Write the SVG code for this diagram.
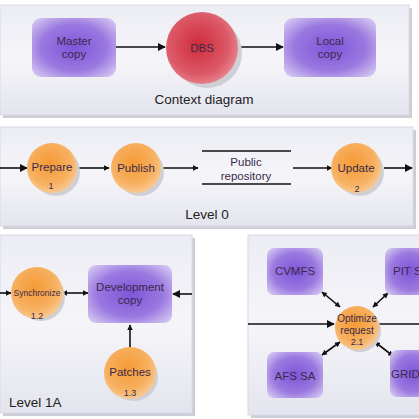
<svg xmlns="http://www.w3.org/2000/svg" width="419" height="419" viewBox="0 0 419 419">
<style>
text{font-family:"Liberation Sans",Arial,sans-serif;fill:#3a2a4a;text-anchor:middle}
.lbl{font-size:11.5px}
.sm{font-size:9px}
.cap{font-size:13.5px;fill:#222}
.ln{stroke:#111;stroke-width:1.6;fill:none}
</style>
<defs>
<linearGradient id="pbg" x1="0" y1="0" x2="0" y2="1">
<stop offset="0" stop-color="#ececf4"/><stop offset="0.5" stop-color="#f5f5f9"/><stop offset="1" stop-color="#e4e4ee"/>
</linearGradient>
<radialGradient id="pur" cx="0.5" cy="0.5" r="0.65">
<stop offset="0" stop-color="#7e55d8"/><stop offset="0.6" stop-color="#9a78e0"/><stop offset="1" stop-color="#d2c4f0"/>
</radialGradient>
<radialGradient id="org" cx="0.45" cy="0.4" r="0.6">
<stop offset="0" stop-color="#f59a35"/><stop offset="0.7" stop-color="#f7b060"/><stop offset="1" stop-color="#f9c890"/>
</radialGradient>
<radialGradient id="red" cx="0.45" cy="0.45" r="0.6">
<stop offset="0" stop-color="#d02a3c"/><stop offset="0.7" stop-color="#dc5a68"/><stop offset="1" stop-color="#e88a94"/>
</radialGradient>
<marker id="ah" viewBox="0 0 10 10" refX="9" refY="5" markerWidth="5" markerHeight="5" orient="auto-start-reverse" markerUnits="strokeWidth">
<path d="M0,0 L10,5 L0,10 z" fill="#111"/>
</marker>
<marker id="as" viewBox="0 0 10 10" refX="9" refY="5" markerWidth="3.5" markerHeight="3.5" orient="auto-start-reverse" markerUnits="strokeWidth">
<path d="M0,0 L10,5 L0,10 z" fill="#111"/>
</marker>
</defs>

<!-- panels -->
<g id="panels">
<rect x="3" y="8" width="409" height="110" fill="#cdcdd5"/>
<rect x="0" y="5" width="409" height="110" fill="url(#pbg)" stroke="#dadae6"/>
<rect x="3" y="130" width="413" height="99" fill="#cdcdd5"/>
<rect x="0" y="127" width="413" height="99" fill="url(#pbg)" stroke="#dadae6"/>
<rect x="3" y="238" width="192" height="178" fill="#cdcdd5"/>
<rect x="0" y="235" width="192" height="178" fill="url(#pbg)" stroke="#dadae6"/>
<rect x="251" y="238" width="170" height="180" fill="#cdcdd5"/>
<rect x="248" y="235" width="175" height="180" fill="url(#pbg)" stroke="#dadae6"/>
</g>

<!-- connectors -->
<g id="connectors">
<line class="ln" x1="116" y1="47" x2="165" y2="47" marker-end="url(#ah)"/>
<line class="ln" x1="238" y1="47" x2="283" y2="47" marker-end="url(#ah)"/>
<line class="ln" x1="0" y1="168" x2="27" y2="168" marker-end="url(#ah)"/>
<line class="ln" x1="79" y1="168" x2="109" y2="168" stroke-width="1.2" marker-end="url(#as)"/>
<line class="ln" x1="162" y1="168" x2="198" y2="168" stroke-width="1.2" marker-end="url(#as)"/>
<line class="ln" x1="293" y1="168" x2="332" y2="168" stroke-width="1.2" marker-end="url(#as)"/>
<line class="ln" x1="384" y1="168" x2="412" y2="168" marker-end="url(#ah)"/>
<line class="ln" x1="202" y1="151" x2="291" y2="151" stroke-width="1.2"/>
<line class="ln" x1="202" y1="184" x2="291" y2="184" stroke-width="1.2"/>
<line class="ln" x1="0" y1="293" x2="11" y2="293" stroke-width="1.2" marker-end="url(#as)"/>
<line class="ln" x1="62" y1="293" x2="88" y2="293" stroke-width="1.2" marker-start="url(#as)" marker-end="url(#as)"/>
<line class="ln" x1="192" y1="294" x2="173" y2="294" stroke-width="2" marker-end="url(#ah)"/>
<line class="ln" x1="130" y1="347" x2="130" y2="325" stroke-width="1.2" marker-end="url(#as)"/>
<line class="ln" x1="248" y1="324" x2="334" y2="324" marker-end="url(#ah)"/>
<line class="ln" x1="379" y1="324" x2="419" y2="324"/>
<line class="ln" x1="322" y1="292" x2="340" y2="307" stroke-width="1.2" marker-start="url(#as)" marker-end="url(#as)"/>
<line class="ln" x1="388" y1="293" x2="373" y2="307" stroke-width="1.2" marker-start="url(#as)" marker-end="url(#as)"/>
<line class="ln" x1="322" y1="355" x2="340" y2="342" stroke-width="1.2" marker-start="url(#as)" marker-end="url(#as)"/>
<line class="ln" x1="375" y1="342" x2="393" y2="356" stroke-width="1.2" marker-start="url(#as)" marker-end="url(#as)"/>
</g>

<!-- Context diagram -->
<g id="master">
<rect x="32" y="18" width="84" height="59" rx="9" fill="url(#pur)"/>
<text class="lbl" x="74" y="45">Master</text><text class="lbl" x="74" y="58">copy</text>
</g>
<g id="dbs">
<circle cx="207" cy="53" r="35" fill="#cfcfd6"/>
<circle cx="202" cy="48" r="36" fill="url(#red)"/>
<text class="lbl" x="202" y="52">DBS</text>
</g>
<g id="local">
<rect x="284" y="18" width="92" height="59" rx="9" fill="url(#pur)"/>
<text class="lbl" x="330" y="45">Local</text><text class="lbl" x="330" y="58">copy</text>
</g>
<text class="cap" x="204" y="104">Context diagram</text>

<!-- Level 0 -->
<g id="prepare">
<circle cx="56" cy="172" r="24" fill="#cfcfd6"/>
<circle cx="52" cy="168" r="25" fill="url(#org)"/>
<text class="lbl" x="52" y="171">Prepare</text><text class="sm" x="51" y="189">1</text>
</g>
<g id="publish">
<circle cx="140" cy="172" r="24" fill="#cfcfd6"/>
<circle cx="136" cy="168" r="25" fill="url(#org)"/>
<text class="lbl" x="136" y="172">Publish</text>
</g>
<g id="repository">
<text class="lbl" x="246" y="166">Public</text><text class="lbl" x="246" y="180">repository</text>
</g>
<g id="update">
<circle cx="360" cy="172" r="24" fill="#cfcfd6"/>
<circle cx="356" cy="168" r="25" fill="url(#org)"/>
<text class="lbl" x="356" y="172">Update</text><text class="sm" x="357" y="192">2</text>
</g>
<text class="cap" x="207" y="219">Level 0</text>

<!-- Level 1A -->
<g id="synchronize">
<circle cx="41" cy="297" r="24" fill="#cfcfd6"/>
<circle cx="37" cy="293" r="26" fill="url(#org)"/>
<text x="37" y="296" style="font-size:8.5px">Synchronize</text><text class="sm" x="37" y="319">1.2</text>
</g>
<g id="devcopy">
<rect x="88" y="265" width="84" height="58" rx="8" fill="url(#pur)"/>
<text class="lbl" x="130" y="291">Development</text><text class="lbl" x="130" y="304">copy</text>
</g>
<g id="patches">
<circle cx="134" cy="377" r="24" fill="#cfcfd6"/>
<circle cx="130" cy="373" r="26" fill="url(#org)"/>
<text class="lbl" x="130" y="376">Patches</text><text class="sm" x="130" y="396">1.3</text>
</g>
<text class="cap" x="9" y="407" style="text-anchor:start">Level 1A</text>

<!-- Level 2 -->
<g id="cvmfs">
<rect x="267" y="248" width="56" height="47" rx="7" fill="url(#pur)"/>
<text class="lbl" x="295" y="275">CVMFS</text>
</g>
<g id="pit">
<rect x="385" y="248" width="50" height="47" rx="7" fill="url(#pur)"/>
<text class="lbl" x="393" y="275" style="text-anchor:start">PIT S</text>
</g>
<g id="afs">
<rect x="267" y="352" width="56" height="46" rx="7" fill="url(#pur)"/>
<text class="lbl" x="295" y="380">AFS SA</text>
</g>
<g id="grid">
<rect x="390" y="350" width="45" height="47" rx="7" fill="url(#pur)"/>
<text class="lbl" x="391" y="378" style="text-anchor:start">GRID</text>
</g>
<g id="optimize">
<circle cx="360" cy="331" r="21" fill="#cfcfd6"/>
<circle cx="357" cy="328" r="22" fill="url(#org)"/>
<text x="357" y="322" style="font-size:10px">Optimize</text><text x="357" y="334" style="font-size:10px">request</text><text class="sm" x="357" y="345">2.1</text>
</g>
</svg>
